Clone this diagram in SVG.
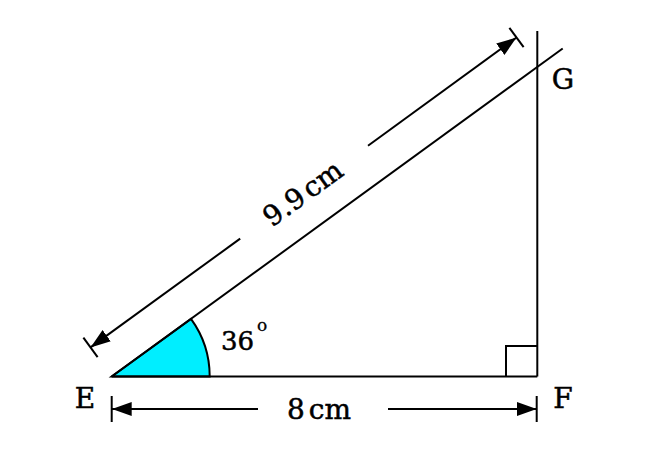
<svg xmlns="http://www.w3.org/2000/svg" width="650" height="450" viewBox="0 0 650 450">
<style>
.ln{stroke:#000;stroke-width:2;fill:none}
.lbl{font-family:"DejaVu Serif","Liberation Serif",serif;font-size:28px;fill:#000;stroke:#000;stroke-width:0.5}
</style>
<defs>
<marker id="ah" viewBox="0 0 20 14" refX="20" refY="7" markerWidth="20" markerHeight="14" markerUnits="userSpaceOnUse" orient="auto-start-reverse">
<path d="M0,0 L20,7 L0,14 Z" fill="#000"/>
</marker>
</defs>
<rect width="650" height="450" fill="#fff"/>
<g id="angle">
<path d="M111.7,376.5 L209.7,376.5 A98,98 0 0 0 191,318.9 Z" fill="#00eeff" stroke="#000" stroke-width="2"/>
</g>
<g id="triangle">
<line class="ln" x1="111.7" y1="376.5" x2="537.3" y2="376.5"/>
<line class="ln" x1="537.3" y1="376.5" x2="537.3" y2="31"/>
<line class="ln" x1="111.7" y1="376.5" x2="562.7" y2="48.5"/>
<polyline class="ln" points="506,376.5 506,346 537.3,346"/>
</g>
<g id="connectors">
<line class="ln" x1="90.5" y1="347.4" x2="240.2" y2="238.6" marker-start="url(#ah)"/>
<line class="ln" x1="368" y1="145.7" x2="516.5" y2="37.5" marker-end="url(#ah)"/>
<line class="ln" x1="83.4" y1="337.7" x2="97.6" y2="357.1"/>
<line class="ln" x1="509.4" y1="27.8" x2="523.6" y2="47.2"/>
<line class="ln" x1="111.7" y1="409" x2="258" y2="409" marker-start="url(#ah)"/>
<line class="ln" x1="388" y1="409" x2="536.7" y2="409" marker-end="url(#ah)"/>
<line class="ln" x1="111.7" y1="396" x2="111.7" y2="422"/>
<line class="ln" x1="536.7" y1="396" x2="536.7" y2="422"/>
</g>
<g id="labels">
<text class="lbl" x="85" y="408" text-anchor="middle">E</text>
<text class="lbl" x="563" y="408" text-anchor="middle">F</text>
<text class="lbl" x="563" y="89" text-anchor="middle">G</text>
<text class="lbl" x="221" y="350" style="font-size:26px">36</text>
<text class="lbl" x="257" y="331" style="font-size:17px;stroke-width:0.3">o</text>
<text class="lbl" x="287" y="419">8<tspan dx="4">cm</tspan></text>
<text class="lbl" transform="translate(304,192) rotate(-36)" x="-47" y="10">9.9<tspan dx="4">cm</tspan></text>
</g>
</svg>
